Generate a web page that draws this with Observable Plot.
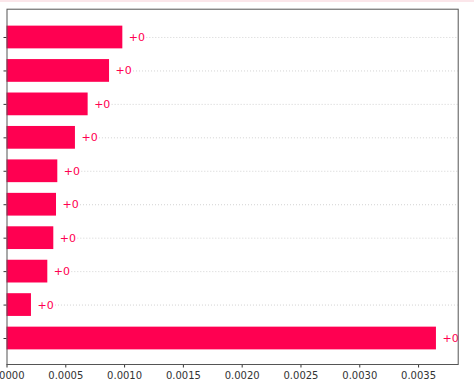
<!DOCTYPE html>
<html>
<head>
<meta charset="utf-8">
<script src="https://cdn.jsdelivr.net/npm/d3@7"></script>
<script src="https://cdn.jsdelivr.net/npm/@observablehq/plot@0.6"></script>
<style>
  html, body { margin: 0; padding: 0; background: #fff; }
  #wrap { position: relative; width: 474px; height: 391px; overflow: hidden; }
  #strip { position: absolute; left: 0; top: 0; width: 474px; height: 2px; background: #fbe6ea; }
  svg { font-family: "DejaVu Sans", sans-serif; }
</style>
</head>
<body>
<div id="wrap"><div id="strip"></div></div>
<script>
// values from top bar to bottom bar
const values = [0.000985, 0.000872, 0.000690, 0.000582, 0.000432, 0.000421, 0.000398, 0.000347, 0.000208, 0.003652];
const labels = ["+0", "+0", "+0", "+0", "+0", "+0", "+0", "+0", "+0", "+0"];
const xTicks = [0, 0.0005, 0.001, 0.0015, 0.002, 0.0025, 0.003, 0.0035];

const n = values.length;
const data = values.map((v, i) => ({pos: n - 1 - i, value: v, label: labels[i]}));
const xMax = 0.003837;
const red = "#ff0051";

const chart = Plot.plot({
  width: 474,
  height: 391,
  marginLeft: 6.5,
  marginRight: 16.3,
  marginTop: 8.7,
  marginBottom: 27,
  style: {fontFamily: "DejaVu Sans, sans-serif", background: "transparent"},
  x: {domain: [0, xMax], axis: null},
  y: {domain: [-0.777, n - 1 + 0.846], axis: null},
  marks: [
    Plot.ruleY(data, {y: "pos", x1: "value", x2: xMax, dx: 24, stroke: "#c8c8c8", strokeWidth: 0.8, strokeDasharray: "1,2", clip: true}),
    Plot.rect(data, {x1: 0, x2: "value", y1: d => d.pos - 0.34, y2: d => d.pos + 0.34, fill: red}),
    Plot.text(data, {x: "value", y: "pos", text: "label", dx: 6, textAnchor: "start", fill: red, fontSize: 11}),
    Plot.axisX({ticks: xTicks, tickFormat: d3.format(".4f"), tickSize: 3.5, tickPadding: 4, fontSize: 10, color: "#333", label: null}),
    Plot.axisY({ticks: data.map(d => d.pos), tickFormat: () => "", tickSize: 3, stroke: "#333", label: null}),
    Plot.frame({stroke: "#555"})
  ]
});
document.getElementById("wrap").appendChild(chart);
</script>
</body>
</html>
